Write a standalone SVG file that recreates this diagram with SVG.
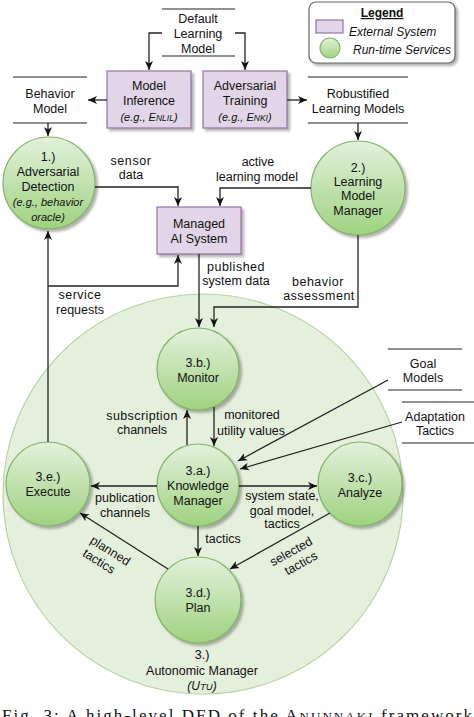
<svg xmlns="http://www.w3.org/2000/svg" width="474" height="717" viewBox="0 0 474 717">
<style>
text{font-family:"Liberation Sans",Arial,sans-serif;font-size:12.5px;fill:#111;text-anchor:middle}
.it{font-style:italic;font-size:11px}
.lg{font-size:12px;text-anchor:start;font-style:italic}
.ext{fill:#e1d5e7;stroke:#9673a6;stroke-width:1.2}
.svc{fill:url(#gg);stroke:#82b366;stroke-width:1.2}
.ds{stroke:#222;stroke-width:1.2}
.c{fill:none;stroke:#222;stroke-width:1.3}
.ca{fill:none;stroke:#222;stroke-width:1.3;marker-end:url(#ah)}
.cap{font-family:"Liberation Serif","Times New Roman",serif;font-size:17px;text-anchor:start}
</style>
<defs>
<linearGradient id="gg" x1="0" y1="0" x2="0" y2="1">
<stop offset="0" stop-color="#e2f1dc"/>
<stop offset="1" stop-color="#9fd27f"/>
</linearGradient>
<filter id="sh" x="-20%" y="-20%" width="150%" height="150%">
<feDropShadow dx="2.5" dy="2.5" stdDeviation="1.2" flood-color="#555" flood-opacity="0.45"/>
</filter>
<marker id="ah" markerWidth="10" markerHeight="10" refX="9" refY="5" orient="auto" markerUnits="userSpaceOnUse">
<path d="M0,1 L9,5 L0,9 L2.5,5 Z" fill="#111"/>
</marker>
</defs>

<g id="autonomic-manager">
<circle cx="203" cy="494" r="200" fill="#e4efdc" stroke="#b7d3a4" stroke-width="1.2"/>
<text x="202" y="659">3.)</text>
<text x="202" y="674.5">Autonomic Manager</text>
<text x="202" y="689.5" class="it" style="font-size:12px">(U<tspan style="font-size:9.5px">TU</tspan>)</text>
</g>

<g id="legend">
<rect x="309" y="2" width="146" height="61" rx="7" fill="#fff" stroke="#666" stroke-width="1.2" filter="url(#sh)"/>
<text x="382" y="17" style="font-weight:bold;font-size:12px;text-decoration:underline">Legend</text>
<rect x="316" y="20" width="27" height="13" class="ext"/>
<text x="349" y="36" class="lg">External System</text>
<circle cx="330" cy="48" r="10" class="svc"/>
<text x="353" y="54" class="lg">Run-time Services</text>
</g>

<g id="default-learning-model">
<line x1="162" y1="9" x2="235" y2="9" class="ds"/>
<line x1="162" y1="56" x2="235" y2="56" class="ds"/>
<text x="198" y="22.5">Default</text>
<text x="198" y="37.5">Learning</text>
<text x="198" y="52.5">Model</text>
</g>

<g id="model-inference">
<rect x="107" y="71" width="84" height="57" class="ext" filter="url(#sh)"/>
<text x="149" y="89.5">Model</text>
<text x="149" y="104.5">Inference</text>
<text x="149" y="121" class="it">(e.g., E<tspan style="font-size:8.5px">NLIL</tspan>)</text>
</g>

<g id="adversarial-training">
<rect x="203" y="71" width="84" height="57" class="ext" filter="url(#sh)"/>
<text x="245" y="89.5">Adversarial</text>
<text x="245" y="104.5">Training</text>
<text x="245" y="121" class="it">(e.g., E<tspan style="font-size:8.5px">NKI</tspan>)</text>
</g>

<g id="behavior-model">
<line x1="13" y1="77" x2="87" y2="77" class="ds"/>
<line x1="13" y1="123" x2="87" y2="123" class="ds"/>
<text x="50" y="97.5">Behavior</text>
<text x="50" y="112.5">Model</text>
</g>

<g id="robustified-learning-models">
<line x1="308" y1="77" x2="408" y2="77" class="ds"/>
<line x1="308" y1="123" x2="408" y2="123" class="ds"/>
<text x="358" y="97.5">Robustified</text>
<text x="358" y="112.5">Learning Models</text>
</g>

<g id="adversarial-detection">
<circle cx="49" cy="183" r="46" class="svc" filter="url(#sh)"/>
<text x="48" y="161">1.)</text>
<text x="48" y="175.5">Adversarial</text>
<text x="48" y="190.5">Detection</text>
<text x="48" y="206" class="it">(e.g., behavior</text>
<text x="48" y="221" class="it">oracle)</text>
</g>

<g id="learning-model-manager">
<circle cx="358" cy="188" r="47" class="svc" filter="url(#sh)"/>
<text x="358" y="171.5">2.)</text>
<text x="358" y="185.5">Learning</text>
<text x="358" y="199.5">Model</text>
<text x="358" y="214.5">Manager</text>
</g>

<g id="managed-ai-system">
<rect x="157" y="207" width="84" height="47" class="ext" filter="url(#sh)"/>
<text x="199" y="227.5">Managed</text>
<text x="199" y="242.5">AI System</text>
</g>

<g id="monitor">
<circle cx="198" cy="369" r="41" class="svc" filter="url(#sh)"/>
<text x="198" y="366.5">3.b.)</text>
<text x="198" y="381.5">Monitor</text>
</g>

<g id="knowledge-manager">
<circle cx="198" cy="485" r="41" class="svc" filter="url(#sh)"/>
<text x="198" y="474.5">3.a.)</text>
<text x="198" y="489.5">Knowledge</text>
<text x="198" y="504.5">Manager</text>
</g>

<g id="execute">
<circle cx="48" cy="484" r="42" class="svc" filter="url(#sh)"/>
<text x="48" y="480.5">3.e.)</text>
<text x="48" y="495.5">Execute</text>
</g>

<g id="analyze">
<circle cx="360" cy="484" r="42" class="svc" filter="url(#sh)"/>
<text x="360" y="481.5">3.c.)</text>
<text x="360" y="496.5">Analyze</text>
</g>

<g id="plan">
<circle cx="198" cy="600" r="43" class="svc" filter="url(#sh)"/>
<text x="198" y="597">3.d.)</text>
<text x="198" y="611.5">Plan</text>
</g>

<g id="goal-models">
<line x1="388" y1="349" x2="462" y2="349" class="ds"/>
<line x1="388" y1="390" x2="462" y2="390" class="ds"/>
<text x="423" y="367.5">Goal</text>
<text x="423" y="381.5">Models</text>
</g>

<g id="adaptation-tactics">
<line x1="402" y1="402" x2="474" y2="402" class="ds"/>
<line x1="402" y1="443" x2="474" y2="443" class="ds"/>
<text x="435" y="420.5">Adaptation</text>
<text x="435" y="434.5">Tactics</text>
</g>

<g id="connectors">
<path d="M162,33 H149 V70" class="ca"/>
<path d="M235,33 H245 V70" class="ca"/>
<path d="M107,100 H88" class="ca"/>
<path d="M287,100 H307" class="ca"/>
<path d="M48,123 V136" class="ca"/>
<path d="M358,123 V140" class="ca"/>
<path d="M95,187 H178 V206" class="ca"/>
<text x="131" y="164.5" style="letter-spacing:0.6px">sensor</text>
<text x="131" y="178.5">data</text>
<path d="M311,188 H220 V206" class="ca"/>
<text x="258" y="165.5">active</text>
<text x="257" y="180.5">learning model</text>
<path d="M48,442 V231" class="ca"/>
<path d="M48,286 H178 V255" class="ca"/>
<text x="80" y="298.5" style="letter-spacing:0.5px">service</text>
<text x="80" y="313.5">requests</text>
<path d="M199,254 V327" class="ca"/>
<text x="236" y="270.5" style="letter-spacing:0.5px">published</text>
<text x="236" y="284.5">system data</text>
<path d="M358,235 V307 H214 V327" class="ca"/>
<text x="318" y="285.5" style="letter-spacing:0.5px">behavior</text>
<text x="319" y="299.5" style="letter-spacing:0.5px">assessment</text>
<path d="M187,445 V410" class="ca"/>
<text x="142" y="419.5" style="letter-spacing:0.4px">subscription</text>
<text x="142" y="433.5">channels</text>
<path d="M214,407 V446" class="ca"/>
<text x="252" y="418.5">monitored</text>
<text x="251" y="434.5">utility values</text>
<path d="M388,380 L238,461" class="ca"/>
<path d="M402,422 L240,469" class="ca"/>
<path d="M157,486 H91" class="ca"/>
<text x="125" y="501.5">publication</text>
<text x="125" y="516.5">channels</text>
<path d="M239,486 H317" class="ca"/>
<text x="282" y="499.5">system state,</text>
<text x="282" y="514.5">goal model,</text>
<text x="282" y="528">tactics</text>
<path d="M198,526 V556" class="ca"/>
<text x="223" y="542.5">tactics</text>
<path d="M168,569 L80,513" class="ca"/>
<g transform="translate(107,556) rotate(32)">
<text x="0" y="-2">planned</text>
<text x="-4" y="13">tactics</text>
</g>
<path d="M330,513 L230,569" class="ca"/>
<g transform="translate(294,557) rotate(-29)">
<text x="0" y="-2">selected</text>
<text x="3" y="13">tactics</text>
</g>
</g>

<text x="2" y="721" class="cap" textLength="470" lengthAdjust="spacing">Fig. 3: A high-level DFD of the A<tspan style="font-size:13px">NUNNAKI</tspan> framework</text>
</svg>
